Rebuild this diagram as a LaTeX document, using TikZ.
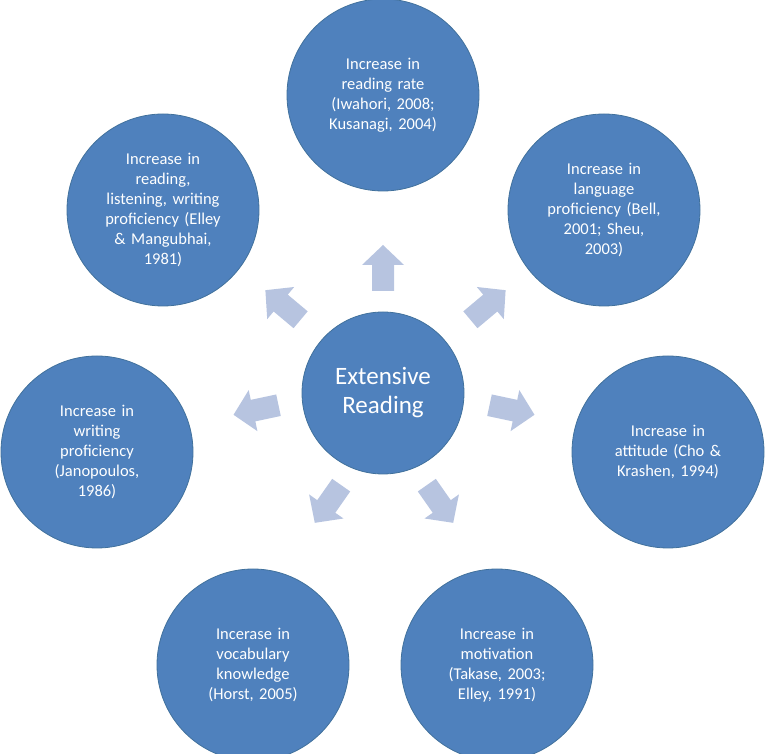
\documentclass[tikz,border=0pt]{standalone}
\usepackage{fontspec}
\setmainfont{Carlito}
\definecolor{cb}{HTML}{4F81BD}
\definecolor{ce}{HTML}{41719C}
\definecolor{ar}{HTML}{B7C4E0}
\begin{document}
\begin{tikzpicture}[x=1pt,y=1pt,
 outer/.style={circle,fill=cb,draw=ce,line width=0.8pt,minimum size=192pt,inner sep=0pt,text=white,font=\fontsize{16.5}{20}\selectfont,align=center,text width=135pt},
 pics/blockarrow/.style={code={\fill[ar] (-23,-11) -- (3,-11) -- (3,-21) -- (23,0) -- (3,21) -- (3,11) -- (-23,11) -- cycle;}}]
\useasboundingbox (0,0) rectangle (768,754);
\node[outer,minimum size=162pt,font=\fontsize{25}{29}\selectfont] (c) at (383,361) {Extensive\\Reading};
\node[outer] (t) at (383,659) {Increase in\\reading rate\\(Iwahori, 2008;\\Kusanagi, 2004)};
\node[outer] (tr) at (604,544) {Increase in\\language\\proficiency (Bell,\\2001; Sheu,\\2003)};
\node[outer] (r) at (668,302) {Increase in\\attitude (Cho \&\\Krashen, 1994)};
\node[outer] (br) at (497,89) {Increase in\\motivation\\(Takase, 2003;\\Elley, 1991)};
\node[outer] (bl) at (253,89) {Incerase in\\vocabulary\\knowledge\\(Horst, 2005)};
\node[outer] (l) at (97,302) {Increase in\\writing\\proficiency\\(Janopoulos,\\1986)};
\node[outer] (tl) at (163,544) {Increase in\\reading,\\listening, writing\\proficiency (Elley\\\& Mangubhai,\\1981)};
\pic[rotate=90] at (383,486) {blockarrow};
\pic[rotate=40] at (488,449) {blockarrow};
\pic[rotate=-12] at (512,344) {blockarrow};
\pic[rotate=-55] at (440,250) {blockarrow};
\pic[rotate=-125] at (328,250) {blockarrow};
\pic[rotate=192] at (256,344) {blockarrow};
\pic[rotate=140] at (283,449) {blockarrow};
\end{tikzpicture}
\end{document}
